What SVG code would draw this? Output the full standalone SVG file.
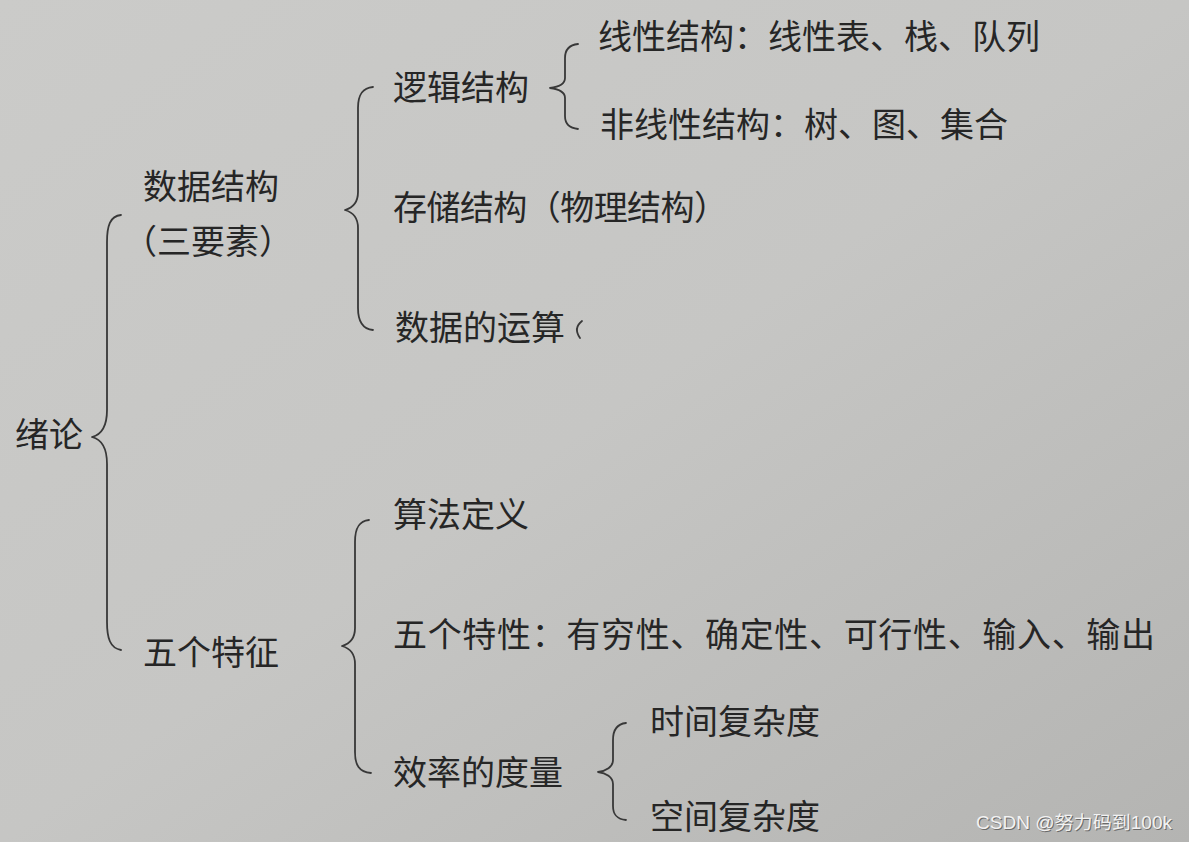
<svg xmlns="http://www.w3.org/2000/svg" width="1189" height="842" viewBox="0 0 1189 842">
<defs>
<linearGradient id="bg" x1="0" y1="0" x2="1" y2="1">
<stop offset="0" stop-color="#cbcbc9"/>
<stop offset="0.5" stop-color="#c6c6c4"/>
<stop offset="1" stop-color="#b4b4b2"/>
</linearGradient>
<style>
.t{font-family:"Noto Sans CJK SC","Noto Sans",sans-serif;font-size:34px;fill:#262626;}
.b{fill:none;stroke:#383838;stroke-width:1.8;stroke-linecap:round;stroke-linejoin:round;}
.wm{font-family:"Liberation Sans","Noto Sans CJK SC",sans-serif;font-size:18px;fill:#f2f2f2;}
.wms{font-family:"Liberation Sans","Noto Sans CJK SC",sans-serif;font-size:18px;fill:#6a6a6a;}
</style>
</defs>
<rect x="0" y="0" width="1189" height="842" fill="url(#bg)"/>

<g id="connectors">
<path class="b" d="M121,215 C110,216 107,226 107,242 L107,410 C107,428 100,435 92,437 C100,439 107,446 107,464 L107,622 C107,638 110,648 121,650"/>
<path class="b" d="M373,87 C362,88 358,95 358,108 L358,192 C358,203 352,208 345,210 C352,212 358,217 358,228 L358,308 C358,321 362,329 373,330"/>
<path class="b" d="M578,44 C569,45 565,50 565,58 L565,78 C565,84 558,87 550,88 C558,89 565,92 565,98 L565,116 C565,124 569,128 578,129"/>
<path class="b" d="M369,520 C359,521 355,528 355,542 L355,628 C355,640 349,644 342,646 C349,648 355,652 355,664 L355,752 C355,765 359,772 371,773"/>
<path class="b" d="M626,723 C617,724 613,730 613,740 L613,760 C613,767 606,771 598,772 C606,773 613,777 613,784 L613,806 C613,815 617,819 626,820"/>
<path class="b" d="M582,321 Q573,328 580,338"/>
</g>

<g id="n-root"><text class="t" x="15" y="447" font-size="32">绪论</text></g>
<g id="n-ds"><text class="t" x="143" y="199">数据结构</text><text class="t" x="123" y="254">（三要素）</text></g>
<g id="n-alg"><text class="t" x="143" y="665">五个特征</text></g>
<g id="n-logic"><text class="t" x="393" y="100">逻辑结构</text></g>
<g id="n-linear"><text class="t" x="598" y="49">线性结构：线性表、栈、队列</text></g>
<g id="n-nonlinear"><text class="t" x="600" y="137">非线性结构：树、图、集合</text></g>
<g id="n-storage"><text class="t" x="393" y="220" textLength="335" lengthAdjust="spacing">存储结构（物理结构）</text></g>
<g id="n-ops"><text class="t" x="395" y="340">数据的运算</text></g>
<g id="n-def"><text class="t" x="393" y="527">算法定义</text></g>
<g id="n-five"><text class="t" x="393" y="647" textLength="762" lengthAdjust="spacing">五个特性：有穷性、确定性、可行性、输入、输出</text></g>
<g id="n-eff"><text class="t" x="393" y="785">效率的度量</text></g>
<g id="n-time"><text class="t" x="650" y="734">时间复杂度</text></g>
<g id="n-space"><text class="t" x="650" y="829">空间复杂度</text></g>

<g id="watermark">
<text class="wms" x="977" y="830" textLength="196" lengthAdjust="spacingAndGlyphs">CSDN @努力码到100k</text>
<text class="wm" x="976" y="829" textLength="196" lengthAdjust="spacingAndGlyphs">CSDN @努力码到100k</text>
</g>
</svg>
